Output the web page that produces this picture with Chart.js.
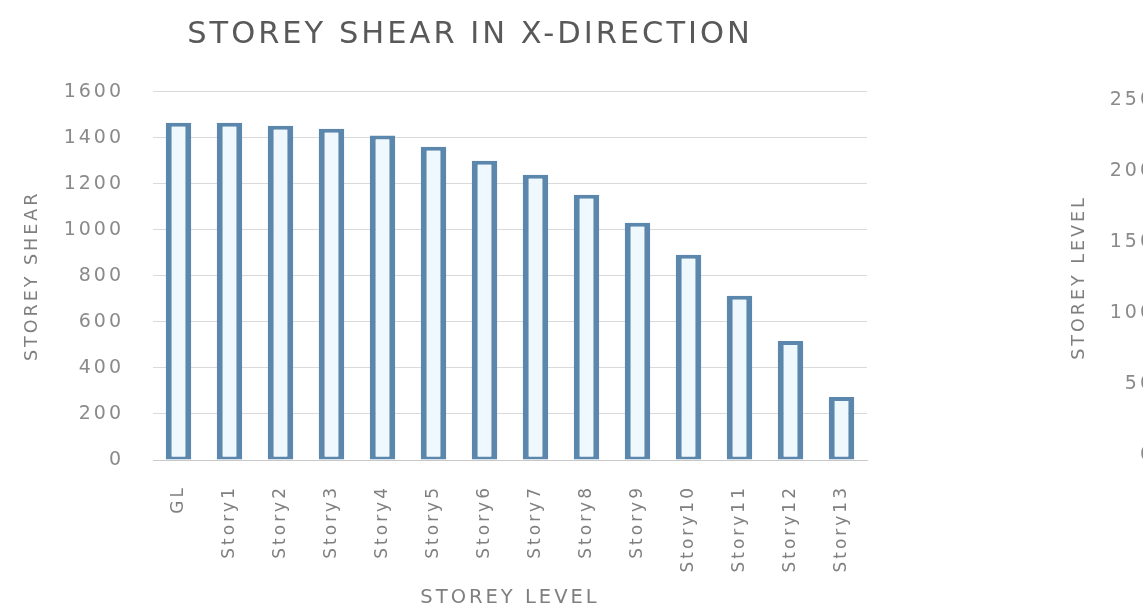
<!DOCTYPE html>
<html>
<head>
<meta charset="utf-8">
<script src="https://cdn.jsdelivr.net/npm/chart.js@4/dist/chart.umd.min.js"></script>
<style>
  html, body { margin: 0; padding: 0; background: #ffffff; }
  body { width: 1143px; height: 615px; overflow: hidden; position: relative; }
  #c1 { position: absolute; left: 0; top: 0; }
  #c2 { position: absolute; left: 1047px; top: 0; }
</style>
</head>
<body>
<canvas id="c1" width="940" height="615"></canvas>
<canvas id="c2" width="940" height="615"></canvas>
<script>
// ---- data ----
const categories = ['GL', 'Story1', 'Story2', 'Story3', 'Story4', 'Story5', 'Story6',
                    'Story7', 'Story8', 'Story9', 'Story10', 'Story11', 'Story12', 'Story13'];
const storeyShearX = [1465, 1465, 1452, 1439, 1409, 1361, 1300, 1239, 1152, 1030, 891, 713, 517, 274];
const shearTicks = [0, 200, 400, 600, 800, 1000, 1200, 1400, 1600];
const levelTicks = [0, 50, 100, 150, 200, 250];
const chartTitle = 'STOREY SHEAR IN X-DIRECTION';
const xAxisTitle = 'STOREY LEVEL';
const yAxisTitle = 'STOREY SHEAR';
const y2AxisTitle = 'STOREY LEVEL';

// ---- styling helpers ----
const FONT = "'DejaVu Sans', 'Open Sans', sans-serif";
const SPACING = '3px';
const letterSpacingPlugin = {
  id: 'letterSpacing',
  beforeUpdate(chart) { chart.ctx.letterSpacing = SPACING; },
  beforeLayout(chart) { chart.ctx.letterSpacing = SPACING; },
  beforeDraw(chart) { chart.ctx.letterSpacing = SPACING; }
};

const spacerAxis = {
  position: 'right',
  display: true,
  grid: { display: false },
  ticks: { display: false },
  border: { display: false },
  afterFit(axis) { axis.width = 73; }
};

new Chart(document.getElementById('c1'), {
  type: 'bar',
  data: {
    labels: categories,
    datasets: [{
      label: yAxisTitle,
      data: storeyShearX,
      backgroundColor: '#eef8fd',
      borderColor: '#5b87ad',
      borderWidth: { left: 6, right: 6, top: 4, bottom: 3 },
      borderSkipped: false,
      barPercentage: 0.5,
      categoryPercentage: 1.0
    }]
  },
  options: {
    responsive: false,
    animation: false,
    devicePixelRatio: 1,
    layout: { padding: { left: 0, right: 0, top: 0, bottom: 0 } },
    plugins: {
      legend: { display: false },
      tooltip: { enabled: false },
      title: {
        display: true,
        text: chartTitle,
        color: '#595959',
        font: { family: FONT, size: 30.5, weight: 'normal', lineHeight: 1.2 },
        padding: { top: 17, bottom: 38 }
      }
    },
    scales: {
      x: {
        grid: { display: false },
        border: { display: true, color: '#c9c9c9', width: 1 },
        ticks: {
          color: '#7f7f7f',
          font: { family: FONT, size: 17 },
          minRotation: 90,
          maxRotation: 90,
          autoSkip: false,
          padding: 17
        },
        title: {
          display: true,
          text: xAxisTitle,
          color: '#7f7f7f',
          font: { family: FONT, size: 19.5 },
          padding: { top: 4, bottom: 5 }
        },
        afterFit(axis) { axis.height = 155; }
      },
      y: {
        min: 0,
        max: 1600,
        afterBuildTicks(axis) { axis.ticks = shearTicks.map(v => ({ value: v })); },
        grid: { color: '#dadada', lineWidth: 1, drawTicks: false },
        border: { display: false },
        ticks: {
          color: '#8a8a8a',
          font: { family: FONT, size: 19 },
          padding: 29,
          callback: (v) => String(v)
        },
        title: {
          display: true,
          text: yAxisTitle,
          color: '#7f7f7f',
          font: { family: FONT, size: 17.5 },
          padding: { top: 22, bottom: 10 }
        },
        afterFit(axis) { axis.width = 153; }
      },
      spacer: spacerAxis
    }
  },
  plugins: [letterSpacingPlugin]
});

// second (neighbouring) chart, mostly outside the visible frame
new Chart(document.getElementById('c2'), {
  type: 'bar',
  data: {
    labels: categories,
    datasets: [{ label: y2AxisTitle, data: [] }]
  },
  options: {
    responsive: false,
    animation: false,
    devicePixelRatio: 1,
    layout: { padding: { left: 0, right: 0, top: 100, bottom: 0 } },
    plugins: { legend: { display: false }, tooltip: { enabled: false }, title: { display: false } },
    scales: {
      x: {
        grid: { display: false },
        border: { display: true, color: '#c9c9c9', width: 1 },
        ticks: { display: false },
        afterFit(axis) { axis.height = 160; }
      },
      y: {
        min: 0,
        max: 250,
        afterBuildTicks(axis) { axis.ticks = levelTicks.map(v => ({ value: v })); },
        grid: { color: '#dadada', lineWidth: 1, drawTicks: false },
        border: { display: false },
        ticks: {
          color: '#8a8a8a',
          font: { family: FONT, size: 19 },
          padding: 29,
          callback: (v) => String(v)
        },
        title: {
          display: true,
          text: y2AxisTitle,
          color: '#7f7f7f',
          font: { family: FONT, size: 17.5 },
          padding: { top: 22, bottom: 10 }
        },
        afterFit(axis) { axis.width = 137; }
      },
      spacer: spacerAxis
    }
  },
  plugins: [letterSpacingPlugin]
});
</script>
</body>
</html>
